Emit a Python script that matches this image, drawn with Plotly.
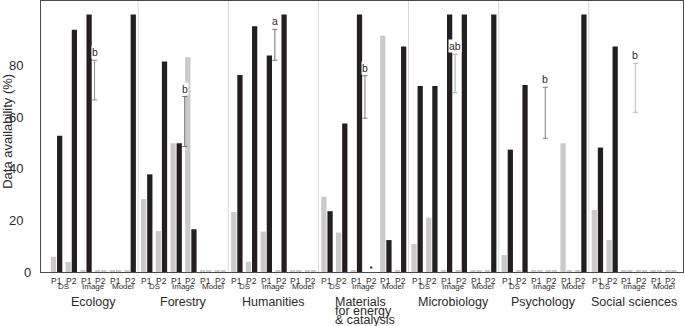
import plotly.graph_objects as go

# ---------------- data ----------------
disciplines = ["Ecology", "Forestry", "Humanities", "Materials for energy & catalysis",
               "Microbiology", "Psychology", "Social sciences"]
discipline_lines = [["Ecology"], ["Forestry"], ["Humanities"],
                    ["Materials", "for energy", "& catalysis"],
                    ["Microbiology"], ["Psychology"], ["Social sciences"]]
data_types = ["DS", "Image", "Model"]
periods = ["P1", "P2"]

# order inside each discipline: P1 DS, P2 DS, P1 Image, P2 Image, P1 Model, P2 Model
grey_values = [
    [5.9, 3.9, 0.5, 0.5, 0.5, 0.5],       # Ecology
    [28.3, 15.9, 50.0, 83.4, 0.5, 0.5],   # Forestry
    [23.3, 4.0, 15.7, 0.5, 0.5, 0.5],     # Humanities
    [29.2, 15.3, 0.5, 0.0, 91.7, 0.5],    # Materials
    [10.9, 21.1, 0.5, 0.5, 0.5, 0.5],     # Microbiology
    [6.6, 0.5, 0.5, 0.5, 50.0, 0.5],      # Psychology
    [24.1, 12.4, 0.5, 0.5, 0.5, 0.5],     # Social sciences
]
black_values = [
    [52.9, 94.0, 100.0, 0.5, 0.5, 100.0],
    [37.9, 81.7, 50.0, 16.6, 0.5, 0.5],
    [76.5, 95.4, 84.0, 100.0, 0.5, 0.5],
    [23.6, 57.6, 100.0, 0.0, 12.4, 87.5],
    [72.2, 72.2, 100.0, 100.0, 0.5, 100.0],
    [47.5, 72.6, 0.5, 0.5, 0.5, 100.0],
    [48.3, 87.5, 0.5, 0.5, 0.5, 0.5],
]
err_low = [66.8, 48.7, 82.2, 59.7, 69.6, 51.9, 62.0]
err_high = [82.2, 68.1, 94.2, 76.2, 84.5, 71.7, 81.0]
err_letters = ["b", "b", "a", "b", "ab", "b", "b"]
err_colors = ["#8a8a8a", "#6e6e6e", "#747474", "#7c7c7c", "#a8a8a8", "#808080", "#bdbdbd"]
dot_marks = [("Materials for energy & catalysis", "Image", "P2", 1.7)]
y_ticks = [0, 20, 40, 60, 80]

# ---------------- style ----------------
GREY = "#cacaca"
BLACK = "#231f20"
TEXT = "#2b2b2b"
FONT = "Liberation Sans, Arial, sans-serif"
SPAN = 6          # x-units per discipline
PAIR_START = 0.57
PAIR_STEP = 0.98


def pair_x(d, t, p):
    return d * SPAN + PAIR_START + PAIR_STEP * (2 * t + p)


xs, gy, by = [], [], []
for d in range(len(disciplines)):
    for t in range(len(data_types)):
        for p in range(len(periods)):
            xs.append(pair_x(d, t, p))
            gy.append(grey_values[d][2 * t + p])
            by.append(black_values[d][2 * t + p])

fig = go.Figure()
fig.add_bar(x=xs, y=gy, width=0.35, offset=-0.38, marker_color=GREY,
            marker_line_width=0, opacity=1, hoverinfo="skip")
fig.add_bar(x=xs, y=by, width=0.35, offset=0.03,
            marker_color=[BLACK if v >= 1 else GREY for v in by],
            marker_line_width=0, opacity=1, hoverinfo="skip")

# error bars
for d in range(len(disciplines)):
    ex = d * SPAN + 3.1
    lo, hi = err_low[d], err_high[d]
    fig.add_scatter(x=[ex], y=[(lo + hi) / 2], mode="markers",
                    marker=dict(size=1, opacity=0),
                    error_y=dict(type="data", array=[(hi - lo) / 2], symmetric=True,
                                 color=err_colors[d], thickness=1, width=2.5),
                    hoverinfo="skip")

# dot marks
for name, t, p, v in dot_marks:
    d = disciplines.index(name)
    fig.add_scatter(x=[pair_x(d, data_types.index(t), periods.index(p))], y=[v],
                    mode="markers", marker=dict(size=2.5, color="#444"), hoverinfo="skip")

shapes = []
for d in range(1, len(disciplines)):
    shapes.append(dict(type="line", xref="x", yref="paper", x0=d * SPAN, x1=d * SPAN,
                       y0=0, y1=1, line=dict(color="#d8d8d8", width=1), layer="below"))

ann = []
for d in range(len(disciplines)):
    for t in range(len(data_types)):
        for p in range(len(periods)):
            ann.append(dict(x=pair_x(d, t, p), y=0, xref="x", yref="paper",
                            text=periods[p], showarrow=False, yanchor="middle",
                            yshift=-8.5, font=dict(size=8.5, color=TEXT, family=FONT)))
        ann.append(dict(x=(pair_x(d, t, 0) + pair_x(d, t, 1)) / 2, y=0, xref="x",
                        yref="paper", text=data_types[t], showarrow=False,
                        yanchor="middle", yshift=-14.5,
                        font=dict(size=8, color=TEXT, family=FONT)))
    lines = discipline_lines[d]
    cx = d * SPAN + 3
    if len(lines) == 1:
        ann.append(dict(x=cx, y=0, xref="x", yref="paper", text=lines[0],
                        showarrow=False, yanchor="middle", yshift=-29.5,
                        font=dict(size=12.5, color=TEXT, family=FONT)))
    else:
        for i, ln in enumerate(lines):
            ann.append(dict(x=cx - 2.0, y=0, xref="x", yref="paper", text=ln,
                            showarrow=False, xanchor="left", yanchor="middle",
                            yshift=-29.5 - 9.2 * i,
                            font=dict(size=12.5, color=TEXT, family=FONT)))
    ann.append(dict(x=d * SPAN + 3.1, y=err_high[d], xref="x", yref="y",
                    text=err_letters[d], showarrow=False, yanchor="bottom", yshift=1,
                    bgcolor="white", borderpad=0,
                    font=dict(size=10.5, color=TEXT, family=FONT)))

for v in y_ticks:
    lab = str(v)
    ann.append(dict(x=0, y=v, xref="paper", yref="y", text=lab, showarrow=False,
                    xanchor="right", yanchor="middle",
                    xshift=-8 if len(lab) == 1 else -16,
                    font=dict(size=13, color=TEXT, family=FONT)))

ann.append(dict(x=0, y=0.52, xref="paper", yref="paper", text="Data availability (%)",
                textangle=-90, showarrow=False, xanchor="center", yanchor="middle",
                xshift=-34.3, font=dict(size=13, color=TEXT, family=FONT)))

fig.update_layout(
    width=685, height=326,
    margin=dict(l=41, r=2, t=1, b=54, autoexpand=False),
    barmode="overlay",
    showlegend=False,
    plot_bgcolor="white", paper_bgcolor="white",
    xaxis=dict(range=[-0.467, 42.27], showticklabels=False, showgrid=False,
               zeroline=False, showline=True, mirror=True, linecolor="#4a4a4a",
               linewidth=1, ticks="", fixedrange=True),
    yaxis=dict(range=[0, 105.2], showticklabels=False, showgrid=False,
               zeroline=False, showline=True, mirror=True, linecolor="#4a4a4a",
               linewidth=1, ticks="", fixedrange=True),
    shapes=shapes,
    annotations=ann,
    font=dict(family=FONT, color=TEXT),
)

fig.write_html("out.html", config={"displayModeBar": False},
               post_script="document.body.style.margin='0';document.body.style.padding='0';")
